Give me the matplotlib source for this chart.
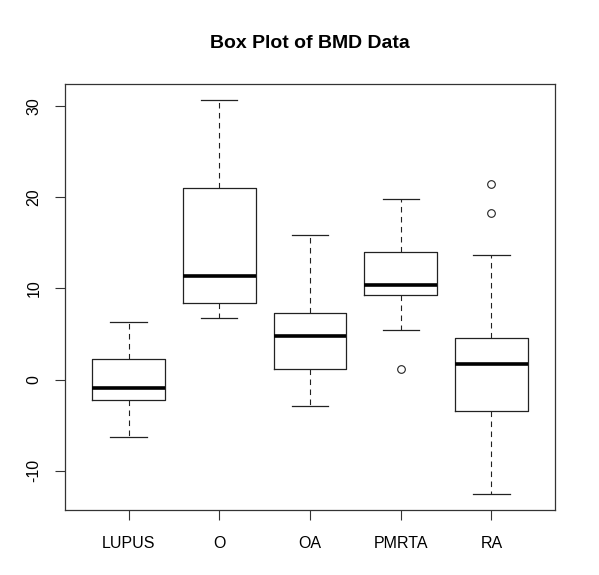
import matplotlib
matplotlib.use("Agg")
import matplotlib.pyplot as plt

plt.rcParams['font.family'] = ['Liberation Sans', 'DejaVu Sans']

categories = ["LUPUS", "O", "OA", "PMRTA", "RA"]
whisker_low = [-6.3, 6.8, -2.85, 5.4, -12.6]
q1 = [-2.2, 8.35, 1.2, 9.3, -3.4]
median = [-0.95, 11.35, 4.75, 10.4, 1.7]
q3 = [2.25, 21.0, 7.35, 14.0, 4.55]
whisker_high = [6.3, 30.7, 15.9, 19.75, 13.6]
outliers = [[], [], [], [1.2], [21.4, 18.3]]
title = "Box Plot of BMD Data"
yticks = [-10, 0, 10, 20, 30]

stats = []
for i, c in enumerate(categories):
    stats.append(dict(label=c, whislo=whisker_low[i], q1=q1[i], med=median[i],
                      q3=q3[i], whishi=whisker_high[i], fliers=outliers[i]))

fig = plt.figure(figsize=(5.99, 5.75), dpi=100)
ax = fig.add_axes([65/599, 1 - 510/575, 490/599, 426/575])

positions = list(range(1, len(categories) + 1))
ax.bxp(stats, positions=positions, widths=0.8, showfliers=True,
       boxprops=dict(color='#222222', linewidth=0.9),
       medianprops=dict(color='black', linewidth=2.6, solid_capstyle='butt'),
       whiskerprops=dict(color='#222222', linewidth=0.8, linestyle=(0, (5, 4))),
       capprops=dict(color='#222222', linewidth=0.9),
       capwidths=0.4,
       flierprops=dict(marker='o', markerfacecolor='none', markeredgecolor='#222222',
                       markersize=5.5, markeredgewidth=0.8, linestyle='none'))

ax.set_xlim(0.3, 5.7)
ax.set_ylim(-14.3, 32.4)
ax.set_xticks(positions)
ax.set_xticklabels(categories, fontsize=11.5)
ax.set_yticks(yticks)
ax.set_yticklabels([str(t) for t in yticks], fontsize=11.5, rotation=90, va='center')
ax.tick_params(axis='both', direction='out', length=7, width=0.8, color='#333333', pad=10)
ax.tick_params(axis='x', pad=12)

for s in ax.spines.values():
    s.set_color('#333333')
    s.set_linewidth(0.9)

fig.text(310/599, 1 - 44/575, title, ha='center', va='center', fontsize=14, fontweight='bold')

fig.savefig("out.png", dpi=100, facecolor='white')
